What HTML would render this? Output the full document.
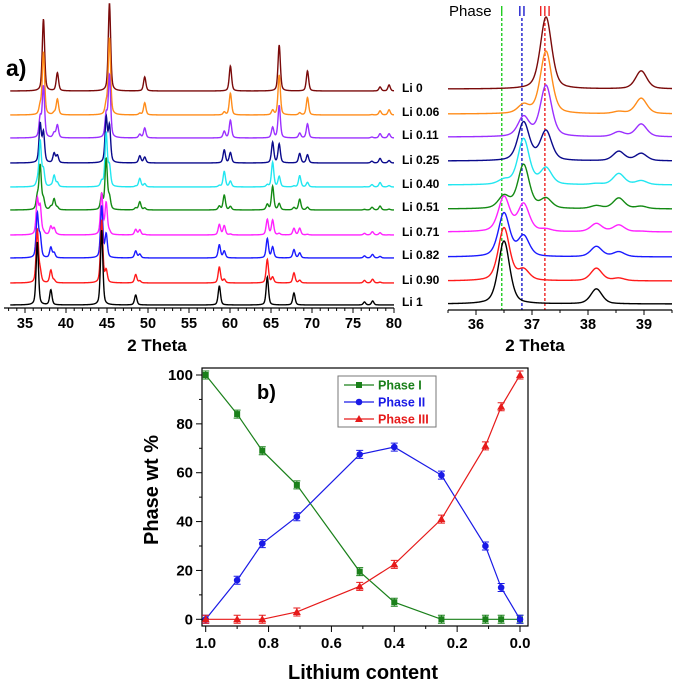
<!DOCTYPE html>
<html><head><meta charset="utf-8"><style>
html,body{margin:0;padding:0;background:#fff;}
svg{display:block;font-family:"Liberation Sans",Arial,sans-serif;}
</style></head><body>
<svg id="fig" width="674" height="685" viewBox="0 0 674 685" xmlns="http://www.w3.org/2000/svg">
<g id="xrdL"></g>
<g id="xrdR"></g>
<g id="chartB"></g>
</svg>
<script>
// ---- data: phase fraction chart ----
const lithium = [1.0, 0.9, 0.82, 0.71, 0.51, 0.4, 0.25, 0.11, 0.06, 0];
const phaseI = [100, 84, 69, 55, 19.5, 7, 0, 0, 0, 0];
const phaseII = [0, 16, 31, 42, 67.5, 70.5, 59, 30, 13, 0];
const phaseIII = [0, 0, 0, 3, 13.5, 22.5, 41, 71, 87, 100];
const yTicks = [0, 20, 40, 60, 80, 100];
const xTicks = [1.0, 0.8, 0.6, 0.4, 0.2, 0.0];
// ---- data: XRD reference peaks (position deg, intensity) ----
const peakPosI = [36.5, 38.15, 44.35, 48.5, 58.7, 64.55, 67.8, 76.4, 77.4];
const peakIntI = [63, 15, 75, 10, 19, 28, 12, 3, 4];
const peakPosII = [36.85, 38.55, 44.9, 49.0, 59.3, 65.2, 68.5, 77.3, 78.3];
const peakIntII = [65, 16, 75, 12, 22, 35, 16, 3, 5];
const peakPosIII = [37.25, 38.95, 45.3, 49.6, 60.05, 66.0, 69.45, 78.3, 79.4];
const peakIntIII = [72, 18, 88, 14, 25, 46, 20, 4, 6];
const sampleLabels = ["Li 0","Li 0.06","Li 0.11","Li 0.25","Li 0.40","Li 0.51","Li 0.71","Li 0.82","Li 0.90","Li 1"];
const sampleFracI = [0, 0, 0, 0, 7, 19.5, 55, 69, 84, 100];
const sampleFracII = [0, 13, 30, 59, 70.5, 67.5, 42, 31, 16, 0];
const sampleFracIII = [100, 87, 71, 41, 22.5, 13.5, 3, 0, 0, 0];
const leftTicks = [35,40,45,50,55,60,65,70,75,80];
const rightTicks = [36,37,38,39];
const phaseMarks = [36.46, 36.82, 37.23];

const NS="http://www.w3.org/2000/svg";
function mk(parent, tag, attrs, text){
  const e=document.createElementNS(NS,tag);
  for(const k in attrs) e.setAttribute(k,attrs[k]);
  if(text!==undefined) e.textContent=text;
  parent.appendChild(e); return e;
}
const colors=["#7a0a0a","#ff8c1a","#9b30ff","#0a0a8c","#22e6f0","#138a13","#ff22ff","#1a1aff","#ff1a1a","#000000"];
const baseL=[91,115,138,163,187,210,235,258,283,305];
const baseR=[89,114,137,161,185,209,232,257,281,304];

function profile(t,i,w){
  let s=0;
  const sets=[[peakPosI,peakIntI,sampleFracI],[peakPosII,peakIntII,sampleFracII],[peakPosIII,peakIntIII,sampleFracIII]];
  for(const [p,h,f] of sets){
    const fr=f[i]/100; if(fr<=0) continue;
    for(let k=0;k<p.length;k++){
      const d=(t-p[k])/w;
      s+=fr*h[k]*(0.55*Math.exp(-0.693*d*d)+0.45/(1+d*d));
    }
  }
  return s;
}
// ---- left panel ----
const L=document.getElementById('xrdL');
const xL=t=>25+(t-35)*8.2;
for(let i=0;i<sampleLabels.length;i++){
  let d="";
  for(let t=33.2;t<=80.001;t+=0.04){
    const y=Math.max(0.5,baseL[i]-profile(t,i,0.17));
    d+=(d?"L":"M")+xL(t).toFixed(2)+","+y.toFixed(2);
  }
  const p=mk(L,'path',{d:d,fill:'none',stroke:colors[i],'stroke-width':1.4});
  
  
  const lb=mk(L,'text',{x:402,y:baseL[i]+1,'font-size':12,'font-weight':'bold',fill:'#000'},sampleLabels[i]);
  
  
}
let ax=mk(L,'line',{x1:4,y1:308,x2:394,y2:308,stroke:'#000','stroke-width':1.2});


for(let t=33;t<=80;t++){
  const maj=t%5===0;
  mk(L,'line',{x1:xL(t),y1:308,x2:xL(t),y2:maj?313:311,stroke:'#000','stroke-width':1});
}
leftTicks.forEach(t=>{
  const e=mk(L,'text',{x:xL(t),y:328,'font-size':14.5,'font-weight':'bold','text-anchor':'middle'},String(t));
  
  
});
let tt=mk(L,'text',{x:157,y:351,'font-size':17,'font-weight':'bold','text-anchor':'middle'},"2 Theta");


let la=mk(L,'text',{x:6,y:76,'font-size':23,'font-weight':'bold'},"a)");



// ---- right panel ----
const R=document.getElementById('xrdR');
const xR=t=>476+(t-36)*56;
const phaseCols=["#22cc22","#1a1acc","#ee2222"];
const phaseNames=["I","II","III"];
phaseMarks.forEach((m,k)=>{
  const l=mk(R,'line',{x1:xR(m),y1:18,x2:xR(m),y2:310,stroke:phaseCols[k],'stroke-width':1.4,'stroke-dasharray':'3,2'});
  
  
  const tx=mk(R,'text',{x:xR(m),y:16,'font-size':15,fill:phaseCols[k],'text-anchor':'middle'},phaseNames[k]);
  
  
});
let ph=mk(R,'text',{x:449,y:16,'font-size':15},"Phase");


for(let i=0;i<sampleLabels.length;i++){
  let d="";
  for(let t=35.5;t<=39.501;t+=0.01){
    const y=baseR[i]-profile(t,i,0.12);
    d+=(d?"L":"M")+xR(t).toFixed(2)+","+y.toFixed(2);
  }
  const p=mk(R,'path',{d:d,fill:'none',stroke:colors[i],'stroke-width':1.4});
  
  
}
ax=mk(R,'line',{x1:448,y1:310,x2:672,y2:310,stroke:'#000','stroke-width':1.2});


for(let t=35.5;t<=39.501;t+=0.5){
  const maj=Math.abs(t-Math.round(t))<0.01;
  mk(R,'line',{x1:xR(t),y1:310,x2:xR(t),y2:maj?315:313,stroke:'#000','stroke-width':1});
}
rightTicks.forEach(t=>{
  const e=mk(R,'text',{x:xR(t),y:329,'font-size':14.5,'font-weight':'bold','text-anchor':'middle'},String(t));
  
  
});
tt=mk(R,'text',{x:535,y:351,'font-size':17,'font-weight':'bold','text-anchor':'middle'},"2 Theta");



// ---- bottom chart ----
const B=document.getElementById('chartB');
const bx=v=>205.7+(1-v)*314.3;
const by=v=>619.3-v*2.443;
let fr=mk(B,'rect',{x:202,y:368,width:326,height:258,fill:'none',stroke:'#000','stroke-width':1.2});


for(let v=0;v<=100;v+=10){
  mk(B,'line',{x1:202,y1:by(v),x2:v%20===0?196:199,y2:by(v),stroke:'#000','stroke-width':1});
}
yTicks.forEach(v=>{
  const e=mk(B,'text',{x:193,y:by(v)+5,'font-size':15,'font-weight':'bold','text-anchor':'end'},String(v));
  
  
});
for(let k=0;k<=10;k++){
  const v=k/10;
  mk(B,'line',{x1:bx(v),y1:626,x2:bx(v),y2:k%2===0?632:629,stroke:'#000','stroke-width':1});
}
xTicks.forEach(v=>{
  const e=mk(B,'text',{x:bx(v),y:648,'font-size':15,'font-weight':'bold','text-anchor':'middle'},v.toFixed(1));
  
  
});
let xt=mk(B,'text',{x:363,y:679,'font-size':20,'font-weight':'bold','text-anchor':'middle'},"Lithium content");


let yt=mk(B,'text',{x:0,y:0,'font-size':20,'font-weight':'bold','text-anchor':'middle',transform:'translate(158,490) rotate(-90)'},"Phase wt %");


let lbb=mk(B,'text',{x:257,y:399,'font-size':20,'font-weight':'bold'},"b)");


const series=[[phaseI,"#1a801a","square","Phase I"],[phaseII,"#1a1ae6","circle","Phase II"],[phaseIII,"#e61a1a","triangle","Phase III"]];
function marker(g,x,y,shape,c){
  if(shape==="square") return mk(g,'rect',{x:x-3,y:y-3,width:6,height:6,fill:c});
  if(shape==="circle") return mk(g,'circle',{cx:x,cy:y,r:3.3,fill:c});
  return mk(g,'path',{d:`M${x},${y-4}L${x+4},${y+3}L${x-4},${y+3}Z`,fill:c});
}
series.forEach(([vals,c,shape,name])=>{
  const g=mk(B,'g',{});
  
  
  const pts=lithium.map((l,i)=>bx(l).toFixed(2)+","+by(vals[i]).toFixed(2)).join(" ");
  mk(g,'polyline',{points:pts,fill:'none',stroke:c,'stroke-width':1.2});
  lithium.forEach((l,i)=>{
    const x=bx(l),y=by(vals[i]);
    mk(g,'path',{d:`M${x-3.5},${y-4}H${x+3.5}M${x},${y-4}V${y+4}M${x-3.5},${y+4}H${x+3.5}`,stroke:c,'stroke-width':1,fill:'none'});
    const m=marker(g,x,y,shape,c);
    
    
  });
});
const lg=mk(B,'g',{});


mk(lg,'rect',{x:338,y:376,width:98,height:51,fill:'#fff',stroke:'#777','stroke-width':1});
series.forEach(([vals,c,shape,name],k)=>{
  const y=385+k*17;
  mk(lg,'line',{x1:344,y1:y,x2:374,y2:y,stroke:c,'stroke-width':1.2});
  marker(lg,359,y,shape,c);
  const e=mk(lg,'text',{x:378,y:y+4.5,'font-size':12.5,'font-weight':'bold',fill:c},name);
  
  
});
</script>
</body></html>
